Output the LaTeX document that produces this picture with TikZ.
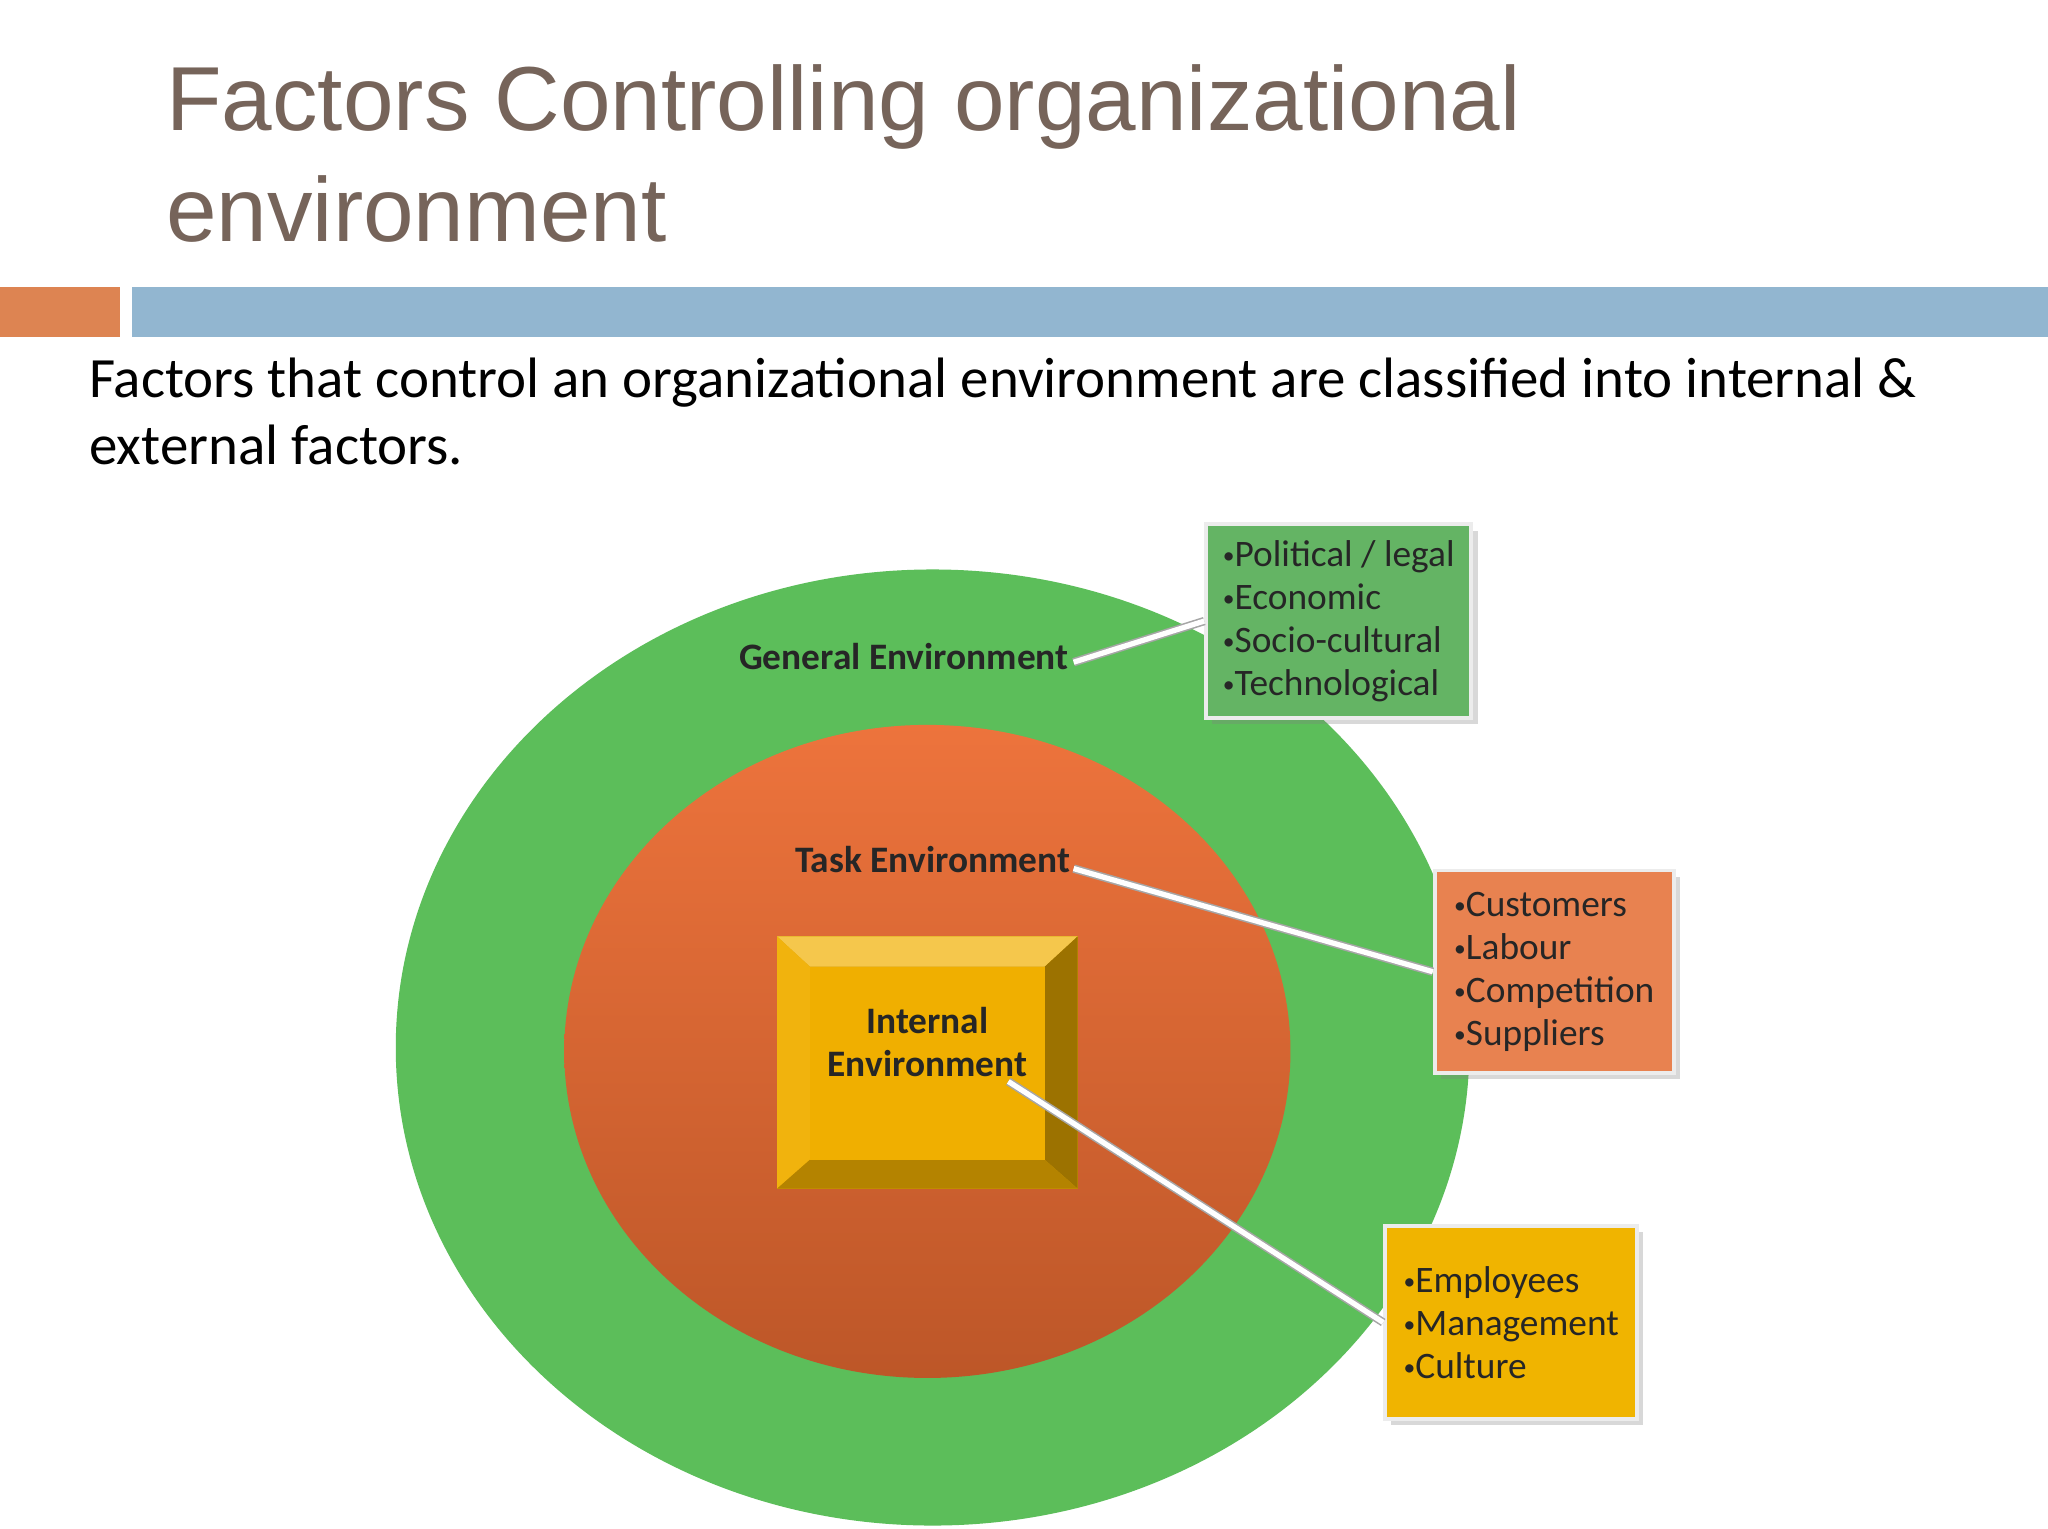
\documentclass[tikz,border=0pt]{standalone}
\usepackage{fontspec}
\usetikzlibrary{shadows}
\setmainfont{Carlito}
\newfontfamily\titlefont{Liberation Sans}
\newcommand{\bul}{{\fontsize{9}{9}\selectfont\raisebox{0.25ex}{•}}}
\begin{document}
\begin{tikzpicture}[x=0.5pt,y=-0.5pt,
  lbl/.style={font=\fontsize{14.3}{16.5}\selectfont\bfseries, text=black!85, align=center},
  infobox/.style={draw=white!85!gray, line width=1.5pt, anchor=north west, align=left, inner sep=5pt,
     font=\fontsize{14.3}{16.5}\selectfont, text=black!85, drop shadow={opacity=0.3}},
  conn/.style={draw=white, line width=2pt, preaction={draw=gray!70, line width=3.2pt}}]
\definecolor{titlec}{RGB}{118,100,90}
\definecolor{barorange}{RGB}{221,132,82}
\definecolor{barblue}{RGB}{146,182,208}
\definecolor{gen}{RGB}{92,190,90}
\definecolor{task}{RGB}{236,108,50}
\definecolor{gold}{RGB}{240,175,0}
\definecolor{genbox}{RGB}{100,180,100}
\definecolor{taskbox}{RGB}{232,130,80}
\definecolor{intbox}{RGB}{240,180,0}
\useasboundingbox (0,0) rectangle (1568,1170);
\fill[white] (0,0) rectangle (1568,1170);
% title
\node[anchor=base west, inner sep=0, text=titlec, font=\titlefont\fontsize{34.8}{42}\selectfont] (t1) at (127,100) {Factors Controlling organizational};
\node[anchor=base west, inner sep=0, text=titlec, font=\titlefont\fontsize{34.8}{42}\selectfont] (t2) at (127,185) {environment};
\fill[barorange] (0,220) rectangle (92,258);
\fill[barblue] (101,220) rectangle (1568,258);
\node[anchor=base west, inner sep=0, font=\fontsize{21.8}{24}\selectfont] (s1) at (68,304) {Factors that control an organizational environment are classified into internal \&};
\node[anchor=base west, inner sep=0, font=\fontsize{21.8}{24}\selectfont] (s2) at (68,356) {external factors.};
% circles
\fill[gen] (714,802) ellipse [x radius=411, y radius=366];
\shade[top color=task!95!white, bottom color=task!80!black] (710,805) ellipse [x radius=278, y radius=250];
% internal box
\fill[gold!90!black] (595,717) rectangle (825,910);
\fill[gold!70!white] (595,717) -- (825,717) -- (800,740) -- (620,740) -- cycle;
\fill[gold!95!white] (595,717) -- (620,740) -- (620,888) -- (595,910) -- cycle;
\fill[gold!65!black] (825,717) -- (825,910) -- (800,888) -- (800,740) -- cycle;
\fill[gold!75!black] (595,910) -- (825,910) -- (800,888) -- (620,888) -- cycle;
\fill[gold] (620,740) rectangle (800,888);
% labels
\node[lbl] (gl) at (692,503) {General Environment};
\node[lbl] (tl) at (714,658) {Task Environment};
\node[lbl] (il) at (710,798) {Internal\\Environment};
% boxes
\node[infobox, fill=genbox, minimum width=101.5pt, minimum height=74pt] (gb) at (922,400) {\bul Political / legal\\\bul Economic\\\bul Socio-cultural\\\bul Technological};
\node[infobox, fill=taskbox, minimum width=91.5pt, minimum height=77.5pt] (tb) at (1097,665) {\bul Customers\\\bul Labour\\\bul Competition\\\bul Suppliers};
\node[infobox, fill=intbox, minimum width=96.5pt, minimum height=74pt] (ib) at (1059,937) {\bul Employees\\\bul Management\\\bul Culture};
% connectors
\coordinate (g1) at (822,507); \coordinate (t1c) at (822,665); \coordinate (i1) at (772,828);
\draw[conn] (g1) -- (gb.west);
\draw[conn] (t1c) -- (tb.west);
\draw[conn] (i1) -- (ib.west);
\end{tikzpicture}
\end{document}
